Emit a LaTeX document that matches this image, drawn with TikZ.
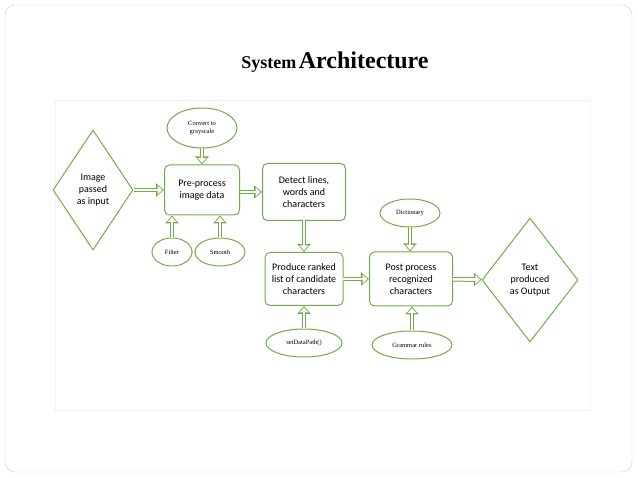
\documentclass[tikz,border=0pt]{standalone}
\usepackage{fontspec}
\setmainfont{Liberation Serif}
\newfontfamily\carl{Carlito}
\usetikzlibrary{shapes.geometric,arrows.meta}
\definecolor{gr}{HTML}{70AD47}
\begin{document}
\begin{tikzpicture}[x=1pt,y=-1pt,
 box/.style={draw=gr,line width=1pt,rounded corners=5pt,align=center,font=\carl\fontsize{10}{12}\selectfont},
 ell/.style={draw=gr,line width=1pt,ellipse,inner sep=0pt,align=center,font=\fontsize{6.5}{7.5}\selectfont},
 dia/.style={draw=gr,line width=1pt,diamond,inner sep=0pt,align=center,font=\carl\fontsize{10}{12}\selectfont},
 arr/.style={draw=gr,line width=4.6pt,-{Triangle[length=8pt,width=13pt]},
   postaction={draw=white,line width=2.6pt,-{Triangle[length=5pt,width=8.5pt]},shorten >=1.5pt,shorten <=-0.5pt}}]
\useasboundingbox (0,0) rectangle (638,478);
\draw[gray!40,rounded corners=10pt] (5,5) rectangle (632,472);
\draw[gray!10] (55,100) rectangle (590,410);
\node[font=\bfseries] (title) at (335,62) {{\fontsize{18}{20}\selectfont System} {\fontsize{24}{26}\selectfont Architecture}};
\node[dia,minimum width=80,minimum height=120] (img) at (93,190) {Image\\passed\\as input};
\node[ell,minimum width=70,minimum height=40] (conv) at (202,128) {Convert to\\grayscale};
\node[box,minimum width=75,minimum height=50] (pre) at (202,190) {Pre-process\\image data};
\node[ell,minimum width=40,minimum height=28] (filt) at (172,252) {Filter};
\node[ell,minimum width=50,minimum height=28] (smo) at (220,252) {Smooth};
\node[box,minimum width=83,minimum height=57] (det) at (304,192) {Detect lines,\\words and\\characters};
\node[box,minimum width=78,minimum height=53] (prod) at (304,279) {Produce ranked\\list of candidate\\characters};
\node[ell,minimum width=76,minimum height=28] (set) at (304,343) {setDataPath()};
\node[ell,minimum width=60,minimum height=28] (dict) at (410,213) {Dictionary};
\node[box,minimum width=83,minimum height=54] (post) at (411,279) {Post process\\recognized\\characters};
\node[ell,minimum width=80,minimum height=28] (gram) at (412,345) {Grammar rules};
\node[dia,minimum width=96,minimum height=124] (txt) at (530,280) {Text\\produced\\as Output};
\draw[arr] (img) -- (pre);
\draw[arr] (conv) -- (pre);
\draw[arr] (filt.north) -- (filt.north|-pre.south);
\draw[arr] (smo.north) -- (smo.north|-pre.south);
\draw[arr] (pre.east|-det) -- (det.west);
\draw[arr] (det) -- (prod);
\draw[arr] (set) -- (prod);
\draw[arr] (prod) -- (post);
\draw[arr] (dict) -- (dict|-post.north);
\draw[arr] (gram) -- (gram|-post.south);
\draw[arr] (post) -- (txt);
\end{tikzpicture}
\end{document}
